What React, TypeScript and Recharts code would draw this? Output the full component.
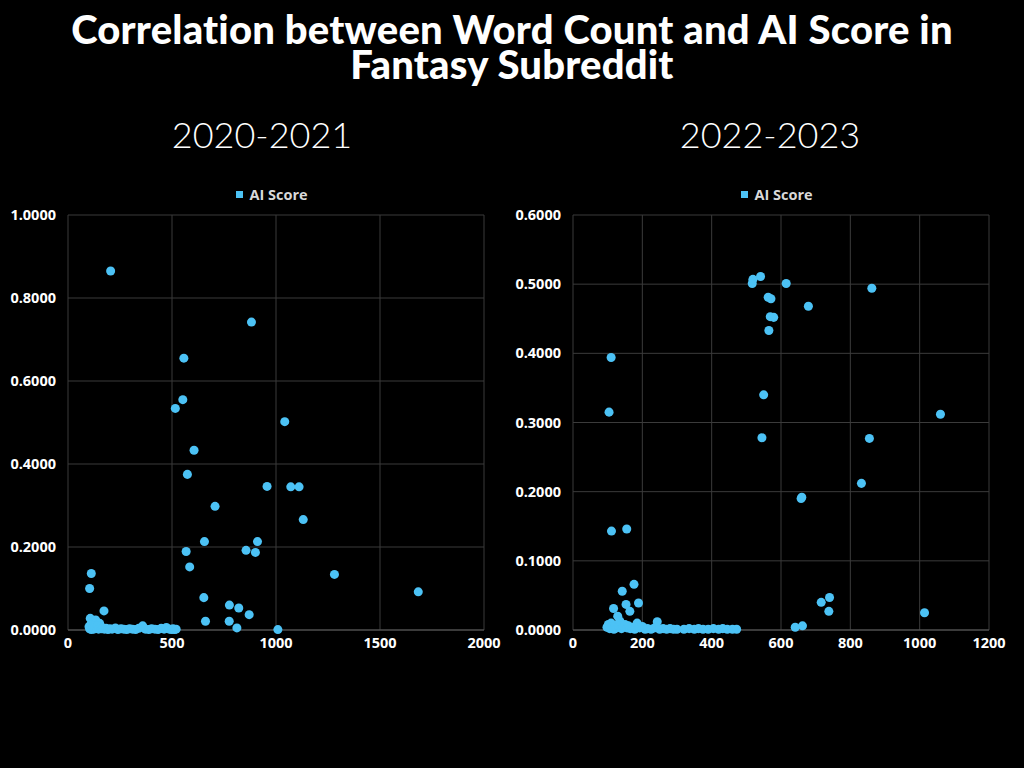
import { CartesianGrid, Scatter, ScatterChart, XAxis, YAxis, ZAxis } from "recharts";

// 2020-2021: word count vs AI score
const words2021 = [
  205, 882, 557, 552, 516, 1042, 606, 574, 957, 1071, 1111, 707, 1131, 656, 911, 568, 856, 901, 585, 112,
  1281, 104, 1684, 653, 776, 821, 871, 173, 661, 775, 812, 1009, 107, 133, 152,
  101, 104, 108, 112, 116, 120, 124, 128, 138, 142, 147, 157, 162, 168, 175, 183, 192, 201, 212, 228, 240,
  255, 268, 282, 296, 310, 325, 340, 359, 372, 388, 402, 418, 433, 448, 462, 473, 487, 498, 505, 512, 520,
];
const score2021 = [
  0.865, 0.742, 0.655, 0.555, 0.534, 0.502, 0.433, 0.375, 0.346, 0.345, 0.345, 0.298, 0.266, 0.213, 0.213,
  0.189, 0.192, 0.187, 0.152, 0.136, 0.134, 0.1, 0.092, 0.078, 0.06, 0.053, 0.037, 0.046, 0.021, 0.021, 0.005,
  0.001, 0.028, 0.024, 0.016,
  0.008, 0.003, 0.012, 0.001, 0.005, 0.009, 0.002, 0.006, 0.004, 0.011, 0.002, 0.007, 0.003, 0.005, 0.002,
  0.004, 0.001, 0.003, 0.002, 0.005, 0.001, 0.003, 0.002, 0.001, 0.003, 0.002, 0.001, 0.004, 0.01, 0.002,
  0.001, 0.003, 0.002, 0.001, 0.004, 0.002, 0.006, 0.002, 0.001, 0.003, 0.001, 0.002,
];

// 2022-2023
const words2023 = [
  519, 517, 541, 615, 862, 563, 571, 679, 569, 579, 565, 110, 550, 104, 1060, 545, 855, 832, 660, 658, 111,
  155, 176, 142, 189, 153, 117, 164, 129, 716, 740, 738, 1014, 641, 662,
  98, 102, 106, 110, 114, 118, 122, 126, 131, 135, 140, 145, 150, 156, 160, 165, 170, 178, 185, 192, 200,
  208, 215, 225, 235, 243, 250, 260, 270, 280, 290, 300, 320, 335, 350, 362, 375, 390, 405, 420, 432, 445,
  460, 472,
];
const score2023 = [
  0.507, 0.501, 0.511, 0.501, 0.494, 0.481, 0.479, 0.468, 0.453, 0.452, 0.433, 0.394, 0.34, 0.315, 0.312,
  0.278, 0.277, 0.212, 0.192, 0.19, 0.143, 0.146, 0.066, 0.056, 0.039, 0.037, 0.031, 0.027, 0.02, 0.04,
  0.047, 0.027, 0.025, 0.004, 0.006,
  0.004, 0.008, 0.002, 0.01, 0.005, 0.001, 0.007, 0.003, 0.006, 0.013, 0.002, 0.005, 0.008, 0.003, 0.006,
  0.002, 0.004, 0.001, 0.01, 0.003, 0.005, 0.001, 0.002, 0.001, 0.003, 0.012, 0.001, 0.002, 0.001, 0.002,
  0.001, 0.001, 0.001, 0.002, 0.001, 0.002, 0.001, 0.001, 0.002, 0.001, 0.002, 0.001, 0.001, 0.001,
];

const xTicks2021 = [0, 500, 1000, 1500, 2000];
const yTicks2021 = [0, 0.2, 0.4, 0.6, 0.8, 1.0];
const xTicks2023 = [0, 200, 400, 600, 800, 1000, 1200];
const yTicks2023 = [0, 0.1, 0.2, 0.3, 0.4, 0.5, 0.6];

const dot = "#4cc2f5";
const grid = "#3b3b3b";
const tick = { fontSize: 14.5, fill: "#ffffff", fontWeight: 700, fontFamily: "'Open Sans', sans-serif" };

const zip = (xs: number[], ys: number[]) => xs.map((x, i) => ({ x, y: ys[i] }));

function Panel({
  left,
  mr,
  yw,
  data,
  xTicks,
  yTicks,
}: {
  left: number;
  mr: number;
  yw: number;
  data: { x: number; y: number }[];
  xTicks: number[];
  yTicks: number[];
}) {
  return (
    <div style={{ position: "absolute", left, top: 180 }}>
      <ScatterChart width={512} height={480} margin={{ top: 35, right: mr, bottom: 5, left: 0 }}>
        <CartesianGrid stroke={grid} />
        <XAxis
          type="number"
          dataKey="x"
          domain={[xTicks[0], xTicks[xTicks.length - 1]]}
          ticks={xTicks}
          tick={tick}
          tickLine={false}
          axisLine={{ stroke: "#5a5a5a" }}
          height={25}
          interval={0}
        />
        <YAxis
          type="number"
          dataKey="y"
          domain={[yTicks[0], yTicks[yTicks.length - 1]]}
          ticks={yTicks}
          tick={tick}
          tickLine={false}
          tickMargin={6}
          axisLine={false}
          width={yw}
          interval={0}
          tickFormatter={(v: number) => v.toFixed(4)}
        />
        <ZAxis range={[52, 52]} />
        <Scatter data={data} fill={dot} isAnimationActive={false} />
      </ScatterChart>
    </div>
  );
}

function LegendTag({ cx }: { cx: number }) {
  return (
    <div
      style={{
        position: "absolute",
        left: cx - 60,
        width: 120,
        top: 185,
        display: "flex",
        alignItems: "center",
        justifyContent: "center",
        gap: 6,
        fontFamily: "'Open Sans', sans-serif",
        fontWeight: 700,
        fontSize: 14.5,
        color: "#d9d9d9",
      }}
    >
      <span style={{ width: 7, height: 7, background: dot, display: "inline-block" }} />
      AI Score
    </div>
  );
}

const subStyle = {
  position: "absolute" as const,
  top: 112,
  width: 220,
  textAlign: "center" as const,
  color: "#ffffff",
  fontFamily: "Lato, sans-serif",
  fontWeight: 300,
  fontSize: 36,
};

export default function App() {
  return (
    <div
      style={{
        position: "absolute",
        left: 0,
        top: 0,
        width: 1024,
        height: 768,
        background: "#000000",
        overflow: "hidden",
      }}
    >
      <div
        style={{
          position: "absolute",
          top: 12,
          left: 0,
          width: 1024,
          textAlign: "center",
          color: "#ffffff",
          fontFamily: "Lato, sans-serif",
          fontWeight: 900,
          fontSize: 40,
          lineHeight: "35px",
          letterSpacing: 0.2,
        }}
      >
        Correlation between Word Count and AI Score in
        <br />
        Fantasy Subreddit
      </div>
      <div style={{ ...subStyle, left: 152 }}>2020-2021</div>
      <div style={{ ...subStyle, left: 660 }}>2022-2023</div>
      <LegendTag cx={272} />
      <LegendTag cx={777} />
      <Panel left={0} mr={28} yw={68} data={zip(words2021, score2021)} xTicks={xTicks2021} yTicks={yTicks2021} />
      <Panel left={512} mr={35} yw={61} data={zip(words2023, score2023)} xTicks={xTicks2023} yTicks={yTicks2023} />
    </div>
  );
}
